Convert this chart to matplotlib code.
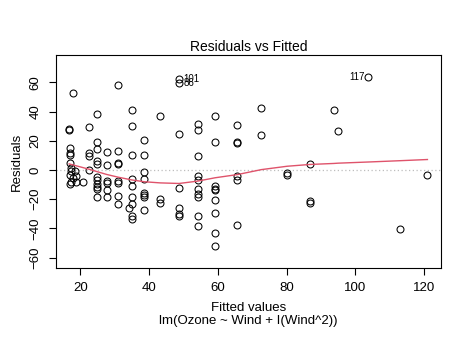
import numpy as np
import matplotlib
matplotlib.use("Agg")
import matplotlib.pyplot as plt

plt.rcParams["font.family"] = ["Liberation Sans", "DejaVu Sans"]

# fitted values / residuals, grouped by fitted column
fitted = [
    17.7, 16.7, 16.7, 17.0, 17.0, 17.0, 17.0,
    17.4, 17.4, 17.1, 17.9, 17.4, 17.1, 18.4, 18.6, 18.6, 20.7,
    22.6, 22.6, 22.6, 22.6,
    24.7, 24.7, 24.7, 24.7, 24.7, 24.7, 24.7, 24.7, 24.7, 24.7, 24.7,
    27.6, 27.6, 27.6, 27.6, 27.6, 27.6,
    31.0, 31.0, 31.0, 31.0, 31.0, 31.0, 31.0, 31.0,
    34.0,
    35.0, 35.0, 35.0, 35.0, 35.0, 35.0, 35.0, 35.0, 35.0,
    38.5, 38.5, 38.5, 38.5, 38.5, 38.5, 38.5, 38.5,
    43.2, 43.2, 43.2,
    48.7, 48.7, 48.7, 48.7, 48.7, 48.7, 48.7,
    54.1, 54.1, 54.1, 54.1, 54.1, 54.1, 54.1, 54.1, 54.1, 54.1,
    59.2, 59.2, 59.2, 59.2, 59.2, 59.2, 59.2, 59.2, 59.2,
    65.7, 65.7, 65.7, 65.7, 65.7, 65.7,
    72.7, 72.7,
    80.2, 80.2,
    86.7, 86.7, 86.7,
    93.7, 95.0, 103.8, 113.1, 121.0,
]
resid = [
    53.0, 27.6, 27.9, 15.0, 11.5, 10.2, 4.5,
    1.5, -0.8, -3.3, -5.3, -8.3, -9.9, -0.8, -4.0, -8.3, -8.1,
    29.5, 11.5, 9.8, 0.3,
    38.6, 19.2, 14.3, 6.0, 4.0, -4.8, -6.5, -9.9, -11.8, -13.3, -18.3,
    12.2, 3.5, -7.6, -8.7, -13.8, -18.3,
    58.0, 13.0, 5.0, 4.2, -7.6, -9.2, -17.6, -23.5,
    -25.8,
    40.8, 30.0, 10.3, -5.8, -10.8, -18.7, -23.3, -31.3, -33.8,
    20.3, 10.5, -1.3, -6.3, -15.4, -17.0, -18.8, -27.6,
    36.7, -20.0, -22.4,
    62.3, 59.5, 24.5, -12.4, -25.8, -30.2, -31.8,
    31.7, 27.6, 9.9, -3.8, -7.1, -13.3, -16.7, -18.6, -31.5, -38.4,
    36.7, 19.0, -11.0, -12.7, -13.8, -20.6, -29.2, -43.3, -52.2,
    31.0, 19.2, 18.8, -4.4, -6.8, -37.9,
    42.3, 24.2,
    -1.9, -3.3,
    4.0, -21.3, -22.6,
    41.3, 26.8, 64.0, -40.2, -3.5,
]

# smoother (red line)
smooth_x = [16.7, 22.6, 24.7, 27.6, 31.0, 35.0, 38.5, 43.2, 48.7, 54.1,
            59.2, 65.7, 72.7, 80.2, 86.7, 93.7, 95.0, 103.8, 113.1, 121.0]
smooth_y = [4.2, 0.5, -1.0, -3.0, -4.9, -6.8, -8.0, -8.8, -9.2, -7.6,
            -5.3, -3.1, 0.3, 2.6, 3.8, 4.5, 4.7, 5.5, 6.4, 7.2]

# labelled extreme residuals (101 and 86 overlap, as in R's output)
lab_names = ["101", "86", "117"]
lab_x = [48.7, 48.7, 103.8]
lab_y = [62.3, 59.5, 64.0]

fig = plt.figure(figsize=(4.74, 3.38), dpi=100)
ax = fig.add_axes([0.1175, 0.207, 0.8125, 0.630])

ax.axhline(0, color="#BEBEBE", lw=0.9, ls=(0, (1, 2)))
ax.plot(fitted, resid, "o", mfc="none", mec="black", ms=5, mew=0.75)
ax.plot(smooth_x, smooth_y, color="#DF536B", lw=1.0)

for name, x, y in zip(lab_names, lab_x, lab_y):
    if x < 69:
        ax.text(x + 1.2, y, name, fontsize=7, ha="left", va="center")
    else:
        ax.text(x - 1.2, y, name, fontsize=7, ha="right", va="center")

ax.set_xlim(12.8, 124.9)
ax.set_ylim(-67.1, 78.7)
ax.set_xticks([20, 40, 60, 80, 100, 120])
ax.set_yticks([-60, -40, -20, 0, 20, 40, 60])
ax.tick_params(direction="out", length=5, width=0.8, labelsize=9.5, pad=5)
for lbl in ax.get_yticklabels():
    lbl.set_rotation(90)
    lbl.set_va("center")
for s in ax.spines.values():
    s.set_linewidth(0.8)

ax.set_title("Residuals vs Fitted", fontsize=10, pad=3)
ax.set_ylabel("Residuals", fontsize=9.5, labelpad=5)
ax.set_xlabel("Fitted values\nlm(Ozone ~ Wind + I(Wind^2))", fontsize=9.5,
              labelpad=6, linespacing=1.05)

fig.savefig("out.png", dpi=100)
